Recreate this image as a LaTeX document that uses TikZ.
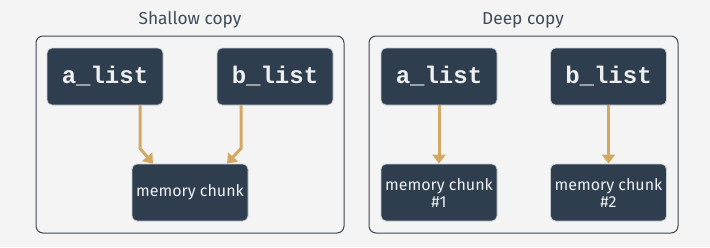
\documentclass[tikz,border=0pt]{standalone}
\usepackage{fontspec}
\setsansfont{Fira Sans}
\newfontfamily\codefont{Liberation Mono}
\usetikzlibrary{arrows.meta}
\definecolor{pagebg}{HTML}{F4F4F4}
\definecolor{boxfill}{HTML}{2E3E4F}
\definecolor{boxline}{HTML}{C9CDD2}
\definecolor{framecol}{HTML}{3C4652}
\definecolor{titlecol}{HTML}{3E4B58}
\definecolor{arrowcol}{HTML}{D4A862}
\tikzset{
  listbox/.style={draw=boxline, line width=0.8pt, fill=boxfill, rounded corners=5pt,
    minimum width=116pt, minimum height=57pt, inner sep=0pt,
    text=white!92!boxfill, font=\codefont\bfseries\fontsize{24}{26}\selectfont},
  chunkbox/.style={listbox, font=\sffamily\fontsize{16}{19}\selectfont, align=center},
  frame/.style={draw=framecol, line width=1pt, rounded corners=7pt},
  title/.style={text=titlecol, font=\sffamily\fontsize{17.3}{19}\selectfont},
  ptr/.style={draw=arrowcol, line width=3pt, -{Triangle[width=13pt,length=9pt]}}
}
\begin{document}
\begin{tikzpicture}[x=1pt,y=-1pt]
		% Background
		\fill[pagebg] (0,0) rectangle (710,247);
		\useasboundingbox (0,0) rectangle (710,247);

		% Shallow copy
		\node[title] (shallowtitle) at (190,20) {Shallow copy};
		\draw[frame] (36,36) rectangle (344,233);
		\node[listbox] (sa) at (105,76.5) {a\_list};
		\node[listbox] (sb) at (275,76.5) {b\_list};
		\node[chunkbox] (schunk) at (190,192.5) {memory chunk};
		\draw[ptr] ([xshift=35pt]sa.south) -- ++(0,43) -- ([xshift=-37pt]schunk.north);
		\draw[ptr] ([xshift=-34pt]sb.south) -- ++(0,43) -- ([xshift=37pt]schunk.north);

		% Deep copy
		\node[title] (deeptitle) at (523,20) {Deep copy};
		\draw[frame] (369,36) rectangle (678,233);
		\node[listbox] (da) at (439,76.5) {a\_list};
		\node[listbox] (db) at (608.5,76.5) {b\_list};
		\node[chunkbox] (dchunka) at (439,192.5) {memory chunk\\[-2pt]\#1};
		\node[chunkbox] (dchunkb) at (608.5,192.5) {memory chunk\\[-2pt]\#2};
		\draw[ptr] (da) -- (dchunka);
		\draw[ptr] (db) -- (dchunkb);
	\end{tikzpicture}
\end{document}
